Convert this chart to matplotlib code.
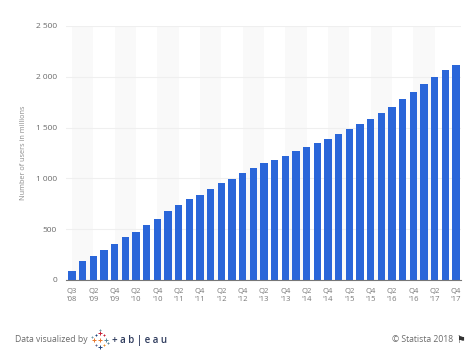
import matplotlib
matplotlib.use("Agg")
import matplotlib.pyplot as plt
import numpy as np

quarters = ["Q3 '08", "Q1 '09", "Q2 '09", "Q3 '09", "Q4 '09", "Q1 '10", "Q2 '10", "Q3 '10",
            "Q4 '10", "Q1 '11", "Q2 '11", "Q3 '11", "Q4 '11", "Q1 '12", "Q2 '12", "Q3 '12",
            "Q4 '12", "Q1 '13", "Q2 '13", "Q3 '13", "Q4 '13", "Q1 '14", "Q2 '14", "Q3 '14",
            "Q4 '14", "Q1 '15", "Q2 '15", "Q3 '15", "Q4 '15", "Q1 '16", "Q2 '16", "Q3 '16",
            "Q4 '16", "Q1 '17", "Q2 '17", "Q3 '17", "Q4 '17"]
users = [92, 190, 236, 295, 354, 426, 472, 544, 603, 676, 735, 794, 840, 892, 951, 997,
         1050, 1103, 1148, 1182, 1221, 1269, 1312, 1345, 1385, 1434, 1483, 1535, 1581,
         1644, 1703, 1778, 1847, 1926, 2000, 2063, 2116]
y_ticks = [0, 500, 1000, 1500, 2000, 2500]
y_labels = ["0", "500", "1 000", "1 500", "2 000", "2 500"]

W, H = 474, 351
plt.rcParams["font.family"] = ["Open Sans", "DejaVu Sans"]

fig = plt.figure(figsize=(W / 100, H / 100), dpi=100)
ax = fig.add_axes([66 / W, 1 - 280 / H, (461 - 66) / W, (280 - 26) / H])

x = np.arange(len(users))

# alternating background bands behind the bars
for start in range(0, 36, 4):
    ax.axvspan(start, start + 2, color="#f9f9f9", lw=0, zorder=0)

ax.bar(x, users, width=0.7, color="#2a66d9", zorder=3)

ax.set_xlim(-0.56, 36.46)
ax.set_ylim(0, 2500)
ax.set_yticks(y_ticks)
ax.set_yticklabels(y_labels)
ax.grid(axis="y", color="#efefef", lw=0.8, zorder=1)
ax.set_axisbelow(True)
for side in ["top", "right", "left"]:
    ax.spines[side].set_visible(False)
ax.spines["bottom"].set_color("#777777")
ax.spines["bottom"].set_linewidth(0.8)
ax.spines["bottom"].set_zorder(4)

ax.tick_params(axis="y", length=0, pad=6.5, labelsize=6.0, labelcolor="#6a6a6a")
shown = x[[0] + list(range(2, len(x), 2))]
ax.set_xticks(shown)
ax.set_xticklabels([quarters[i].replace(" ", "\n") for i in shown], linespacing=1.05)
ax.tick_params(axis="x", length=0, pad=6, labelsize=5.5, labelcolor="#777777")

ax.set_ylabel("Number of users in millions", fontsize=5.2, color="#8a8a8a")
ax.yaxis.set_label_coords((27 - 66) / (461 - 66), 0.5)

# footer, in pixel coordinates
over = fig.add_axes([0, 0, 1, 1], facecolor="none")
over.set_xlim(0, W)
over.set_ylim(H, 0)
over.axis("off")
over.text(15, 339.5, "Data visualized by", fontsize=6.2, color="#6b6b6b", va="center")
logo_x = [100, 100, 94, 106, 96, 104, 96, 104, 100, 100, 92, 108]
logo_y = [340, 333, 340, 340, 335, 335, 345, 345, 347, 330, 337, 343]
logo_c = ["#e8762b", "#c72035", "#e8762b", "#59879b", "#1f447d", "#c72035",
          "#5b6591", "#eb912b", "#1f447d", "#7099a6", "#7099a6", "#59879b"]
logo_s = [12, 6, 6, 6, 4, 4, 4, 4, 6, 3, 3, 3]
over.scatter(logo_x, logo_y, s=logo_s, c=logo_c, marker="+", linewidths=0.7)
over.text(112, 340, "+ a b | e a u", fontsize=7.0, color="#2d3a5c", va="center",
          fontweight="semibold")
over.text(392.5, 340, "© Statista 2018", fontsize=6.2, color="#6b6b6b", va="center")
over.text(456.5, 340, "\u2691", fontsize=7, color="#333333", va="center", ha="left",
          family="DejaVu Sans")

fig.savefig("out.png", dpi=100)
